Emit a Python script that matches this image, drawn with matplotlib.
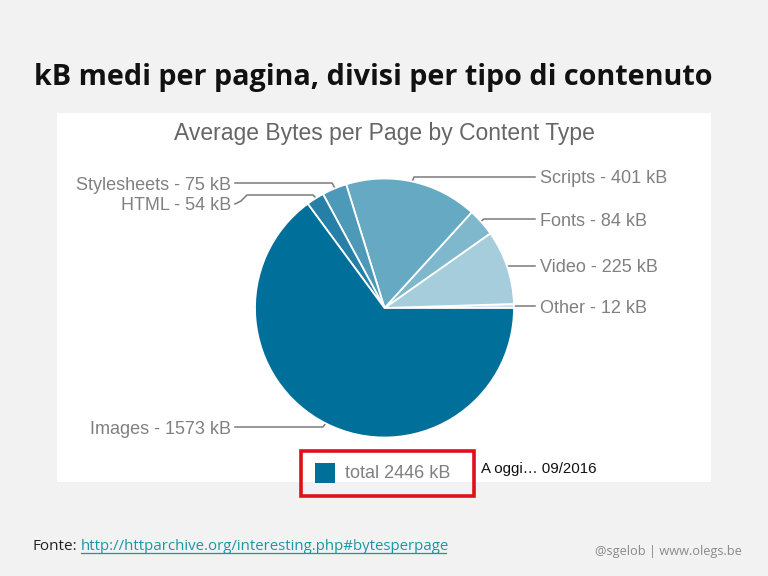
import matplotlib
matplotlib.use('Agg')
import matplotlib.pyplot as plt
from matplotlib.patches import Rectangle

# data, counterclockwise from 3 o'clock
categories = ['Other', 'Video', 'Fonts', 'Scripts', 'Stylesheets', 'HTML', 'Images']
kbytes = [12, 225, 84, 401, 75, 54, 1573]
slice_colors = ['#cce2ea', '#a6cddc', '#7fb7cd', '#66a9c3', '#4c9ab8', '#267fa6', '#006f9a']
total_kb = 2446

# label anchors and leader paths in slide pixels
label_pos = {'Other': (540, 308.5), 'Video': (540, 267.5), 'Fonts': (540, 222), 'Scripts': (540, 178.5),
             'Stylesheets': (231, 186), 'HTML': (231, 205), 'Images': (231, 429)}
leaders = {'Other': [(512, 306), (535, 306)],
           'Video': [(506, 266), (535, 266)],
           'Fonts': [(480, 222), (484, 219), (535, 219)],
           'Scripts': [(412, 182), (414, 177), (535, 177)],
           'Stylesheets': [(235, 183), (332, 183), (335, 188)],
           'HTML': [(235, 204), (241, 201), (247, 195), (313, 195), (316, 198)],
           'Images': [(235, 427), (323, 427), (326, 423)]}

W, H = 768, 576
cx, cy, r = 384.5, 308, 129.5

fig = plt.figure(figsize=(W/100, H/100), dpi=100, facecolor='#f2f2f2')

# overlay in pixel coords
bg = fig.add_axes([0, 0, 1, 1])
bg.set_xlim(0, W), bg.set_ylim(H, 0)
bg.axis('off')
bg.add_patch(Rectangle((57, 113), 654, 369, fc='white', ec='none'))

bg.text(34, 77, 'kB medi per pagina, divisi per tipo di contenuto', fontsize=20.7,
        family='Open Sans', weight='bold', color='#111111', va='center')
bg.text(384, 133.5, 'Average Bytes per Page by Content Type', fontsize=16.5,
        family='Liberation Sans', color='#666666', ha='center', va='center')

# pie
ax = fig.add_axes([(cx-r)/W, 1-(cy+r)/H, 2*r/W, 2*r/H])
ax.pie(kbytes, colors=slice_colors, startangle=0, radius=1, counterclock=True,
       wedgeprops=dict(edgecolor='white', linewidth=1.3))
ax.set_xlim(-1, 1), ax.set_ylim(-1, 1)

for name, val in zip(categories, kbytes):
    x, y = label_pos[name]
    ha = 'right' if x < cx else 'left'
    bg.text(x, y, '%s - %d kB' % (name, val), fontsize=12.95, family='Liberation Sans',
            color='#808080', ha=ha, va='center')
    xs, ys = zip(*leaders[name])
    bg.plot(xs, ys, color='#7a7a7a', lw=1.1, zorder=1)

# legend with the red box
bg.add_patch(Rectangle((315, 463), 20, 20, fc='#006f9a', ec='none'))
bg.text(345, 474, 'total %d kB' % total_kb, fontsize=12.95, family='Liberation Sans',
        color='#808080', va='center')
bg.add_patch(Rectangle((300.5, 450.5), 173, 45, fc='none', ec='#e0101a', lw=2.6))
bg.text(481, 469, 'A oggi… 09/2016', fontsize=10.8, family='Liberation Sans',
        color='#111111', va='center')

# footer
bg.text(33, 546, 'Fonte:', fontsize=11, family='Open Sans', color='#222222', va='center')
bg.text(81, 546, 'http://httparchive.org/interesting.php#bytesperpage', fontsize=10.8,
        family='Open Sans', color='#1a97a6', va='center')
bg.plot([81, 446], [553, 553], color='#1a97a6', lw=0.9)
bg.text(742, 552, '@sgelob | www.olegs.be', fontsize=9.2, family='Open Sans',
        color='#8a8a8a', ha='right', va='center')

fig.savefig('out.png', dpi=100, facecolor=fig.get_facecolor())
